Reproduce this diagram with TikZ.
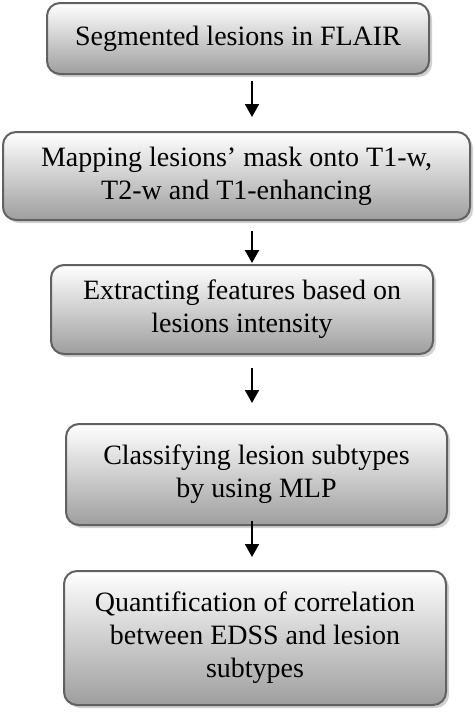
\documentclass[tikz,border=0pt]{standalone}
\usepackage{fontspec}
\setmainfont{Liberation Serif}
\usetikzlibrary{shadows,arrows.meta}
\begin{document}
\begin{tikzpicture}[x=1pt,y=-1pt,
  stepbox/.style={draw=black!62, line width=2pt, rounded corners=13pt,
    top color=white, bottom color=black!38, align=center,
    font=\fontsize{28}{33}\selectfont, inner sep=0pt,
    drop shadow={shadow xshift=3pt, shadow yshift=-3pt, fill=black!30, opacity=0.6}},
  arr/.style={-{Triangle[width=14pt,length=13pt]}, line width=2pt}]
\useasboundingbox (0,0) rectangle (474,712);
\coordinate (ax) at (252,0);
\node[stepbox, minimum width=382pt, minimum height=71pt] (b1) at (238,38.5) {Segmented lesions in FLAIR};
\node[stepbox, minimum width=467pt, minimum height=88pt] (b2) at (236.5,176) {Mapping lesions’ mask onto T1-w,\\T2-w and T1-enhancing};
\node[stepbox, minimum width=382pt, minimum height=89pt] (b3) at (242,309.5) {Extracting features based on\\lesions intensity};
\node[stepbox, minimum width=381pt, minimum height=101pt] (b4) at (256.5,474.5) {Classifying lesion subtypes\\by using MLP};
\node[stepbox, minimum width=382pt, minimum height=134pt] (b5) at (255,638) {Quantification of correlation\\between EDSS and lesion\\subtypes};
\draw[arr] ([yshift=-6pt]b1.south -| ax) -- ([yshift=14pt]b2.north -| ax);
\draw[arr] ([yshift=-10pt]b2.south -| ax) -- ([yshift=1pt]b3.north -| ax);
\draw[arr] ([yshift=-13pt]b3.south -| ax) -- ([yshift=20pt]b4.north -| ax);
\draw[arr] ([yshift=5pt]b4.south -| ax) -- ([yshift=13pt]b5.north -| ax);
\end{tikzpicture}
\end{document}
